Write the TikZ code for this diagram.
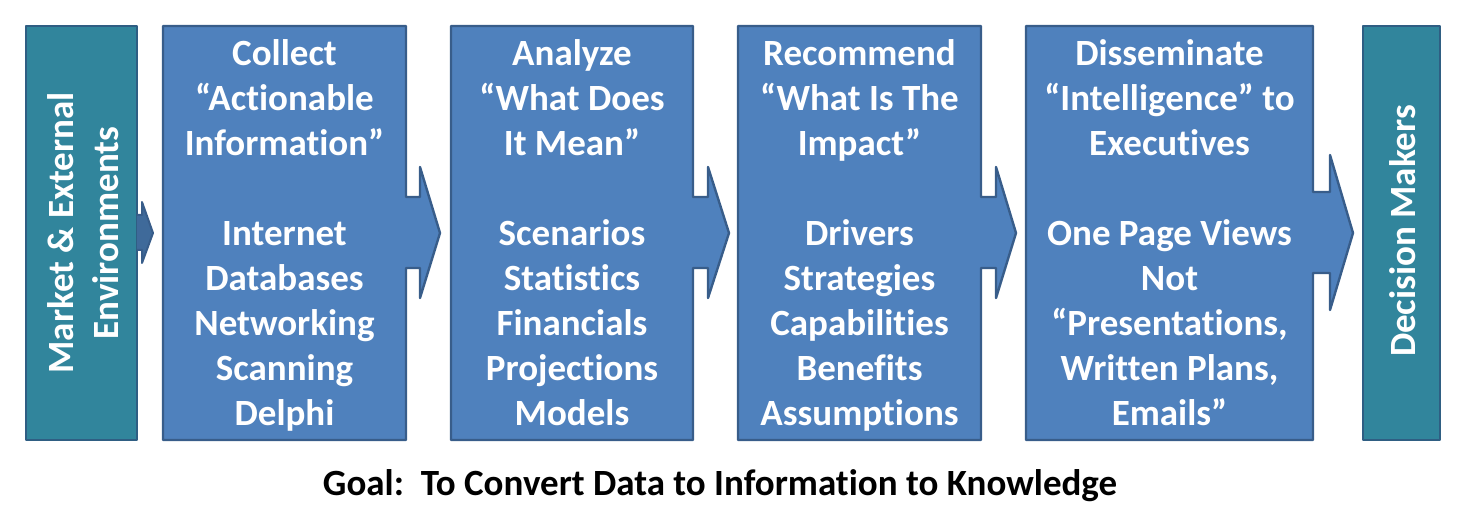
\documentclass[tikz,border=0pt]{standalone}
\usepackage{fontspec}
\setmainfont{Carlito}[Ligatures=NoCommon]
\definecolor{boxblue}{HTML}{4F81BD}
\definecolor{boxline}{HTML}{385D8A}
\definecolor{boxteal}{HTML}{31859C}
\definecolor{tealline}{HTML}{2F5E83}
\definecolor{arrowdark}{HTML}{3F6A9A}
\begin{document}
\begin{tikzpicture}[x=0.5pt,y=-0.5pt,
  bluebox/.style={fill=boxblue,draw=boxline,line width=1.2pt,line join=round},
  tealbox/.style={fill=boxteal,draw=tealline,line width=1.2pt,line join=round},
  boxtext/.style={text=white,align=center,font=\fontsize{18.5}{22.5}\selectfont\bfseries,inner sep=0pt,text depth=0pt},
  goaltext/.style={text=black,font=\fontsize{18.5}{22.5}\selectfont\bfseries,inner sep=0pt,text depth=0pt}]
\useasboundingbox (0,0) rectangle (1461,529);
% left teal box and small arrow
\draw[tealbox] (26,26) rectangle (137,440);
\draw[fill=arrowdark,draw=boxline,line width=1pt,line join=round]
  (137,215) -- (142,215) -- (142,202) -- (153,233) -- (142,263) -- (142,250) -- (137,250);
% Collect
\draw[bluebox] (163,26) -- (406,26) -- (406,197) -- (420,197) -- (420,167) -- (440,233)
  -- (420,298) -- (420,268) -- (406,268) -- (406,440) -- (163,440) -- cycle;
% Analyze
\draw[bluebox] (451,26) -- (693,26) -- (693,197) -- (708,197) -- (708,167) -- (729,233)
  -- (708,298) -- (708,268) -- (693,268) -- (693,440) -- (451,440) -- cycle;
% Recommend
\draw[bluebox] (738,26) -- (981,26) -- (981,197) -- (996,197) -- (996,167) -- (1016,233)
  -- (996,298) -- (996,268) -- (981,268) -- (981,440) -- (738,440) -- cycle;
% Disseminate
\draw[bluebox] (1026,26) -- (1313,26) -- (1313,192) -- (1330,192) -- (1330,155) -- (1353,233)
  -- (1330,310) -- (1330,273) -- (1313,273) -- (1313,440) -- (1026,440) -- cycle;
% Decision makers
\draw[tealbox] (1363,26) rectangle (1440,440);
% texts
\node[boxtext,rotate=90] (market) at (83,233) {Market \& External\\Environments};
\node[boxtext] (collect) at (284.5,233) {Collect\\“Actionable\\Information”\\[22.5pt]Internet\\Databases\\Networking\\Scanning\\Delphi};
\node[boxtext] (analyze) at (572,233) {Analyze\\“What Does\\It Mean”\\[22.5pt]Scenarios\\Statistics\\Financials\\Projections\\Models};
\node[boxtext] (recommend) at (859.5,233) {Recommend\\“What Is The\\Impact”\\[22.5pt]Drivers\\Strategies\\Capabilities\\Benefits\\Assumptions};
\node[boxtext] (disseminate) at (1169.5,233) {Disseminate\\“Intelligence” to\\Executives\\[22.5pt]One Page Views\\Not\\“Presentations,\\Written Plans,\\Emails”};
\node[boxtext,rotate=90] (decision) at (1403,231) {Decision Makers};
\node[goaltext] (goal) at (720,483) {Goal:\ \ To Convert Data to Information to Knowledge};
\end{tikzpicture}
\end{document}
